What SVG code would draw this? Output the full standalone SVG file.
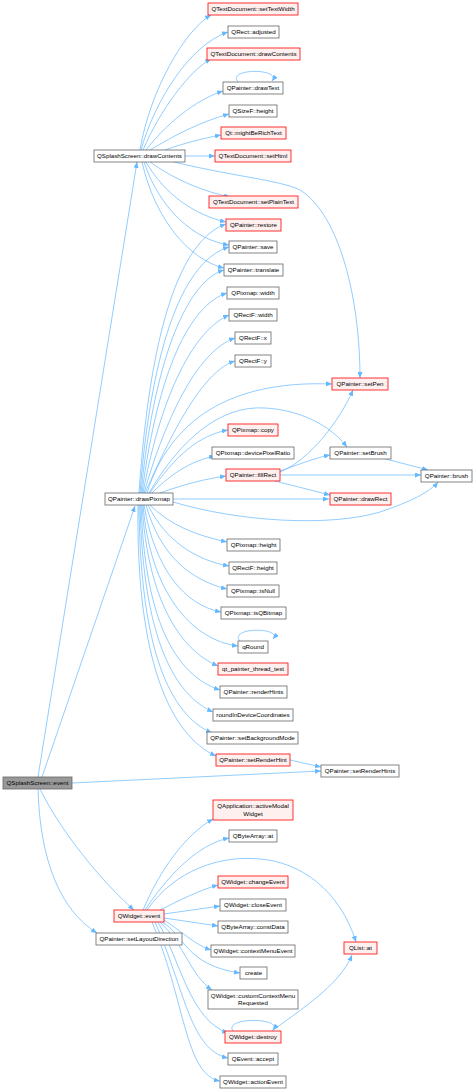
<svg xmlns="http://www.w3.org/2000/svg" width="474" height="1090" viewBox="0 0 474 1090">
<style>
.n rect{fill:#fff;stroke:#666;stroke-width:0.8}
.r rect{fill:#fff0f0;stroke:#ff0000;stroke-width:0.8}
.root rect{fill:#999;stroke:#666;stroke-width:0.8}
text{font-family:"Liberation Sans",Arial,sans-serif;font-size:6.2px;fill:#000;text-anchor:middle}
#edges path{fill:none;stroke:#63b8ff;stroke-width:0.7;marker-end:url(#a)}
</style>
<defs>
<marker id="a" viewBox="0 0 10 10" refX="10" refY="5" markerWidth="6" markerHeight="5" markerUnits="userSpaceOnUse" orient="auto" preserveAspectRatio="none"><path d="M0,0 L10,5 L0,10z" fill="#63b8ff"/></marker>
</defs>
<rect width="474" height="1090" fill="#fff"/>
<g id="edges">
<path d="M140,150 C150,90 185,30 211,15"/>
<path d="M141,150 C155,100 190,45 228,32"/>
<path d="M143,150 C160,110 190,70 211,59"/>
<path d="M146,150 C165,125 195,100 223,91"/>
<path d="M150,150 C175,135 200,122 229,114"/>
<path d="M165,150 C185,143 200,139 221,135"/>
<path d="M185,156 L215,156"/>
<path d="M150,162 C175,180 205,192 230,197"/>
<path d="M146,162 C165,195 195,215 226,222"/>
<path d="M144,162 C160,210 195,240 229,245"/>
<path d="M142,162 C155,220 190,260 224,268"/>
<path d="M170,161 C230,176 280,180 300,190 C340,215 360,300 360,378"/>
<path d="M238,82 C226,68 282,68 272,81"/>
<path d="M38,777 L137,162"/>
<path d="M42,777 L135,506"/>
<path d="M72,783 L321,771"/>
<path d="M40,789 C60,830 100,880 134,910"/>
<path d="M38,789 C40,860 60,910 97,933"/>
<path d="M139,493 C150,330 180,240 226,224"/>
<path d="M140,493 C152,340 185,260 229,247"/>
<path d="M141,493 C155,350 190,280 224,270"/>
<path d="M142,493 C158,370 190,305 227,293"/>
<path d="M143,493 C162,390 195,330 229,315"/>
<path d="M144,493 C168,410 200,350 235,338"/>
<path d="M145,493 C175,425 205,370 235,361"/>
<path d="M147,493 C170,420 230,380 332,384"/>
<path d="M149,493 C180,440 220,405 265,408 C300,410 330,425 347,447"/>
<path d="M150,493 C175,455 200,435 228,430"/>
<path d="M152,493 C175,470 195,460 215,456"/>
<path d="M160,493 C185,484 205,479 226,476"/>
<path d="M173,499 L329,499"/>
<path d="M173,502 C240,522 330,527 380,512 C410,502 430,492 438,482"/>
<path d="M150,505 C170,525 195,535 227,542"/>
<path d="M148,505 C165,540 195,560 229,566"/>
<path d="M146,505 C160,555 190,580 227,589"/>
<path d="M144,505 C155,570 185,605 221,612"/>
<path d="M143,505 C150,590 190,640 238,646"/>
<path d="M142,505 C148,600 180,650 218,666"/>
<path d="M141,505 C145,620 175,675 220,690"/>
<path d="M140,505 C143,640 175,695 213,712"/>
<path d="M139,505 C140,650 170,715 212,733"/>
<path d="M138,505 C136,660 170,735 216,756"/>
<path d="M240,641 C228,627 283,627 273,639"/>
<path d="M280,472 C310,460 340,420 353,390"/>
<path d="M280,471 C300,464 315,458 330,455"/>
<path d="M280,475 L421,475"/>
<path d="M275,481 L330,495"/>
<path d="M382,458 L428,470"/>
<path d="M290,760 L321,767"/>
<path d="M143,910 C160,870 185,835 213,819"/>
<path d="M145,910 C165,880 195,845 229,838"/>
<path d="M147,910 C175,870 220,855 260,859 C300,862 340,890 356,942"/>
<path d="M160,910 C180,900 200,890 218,885"/>
<path d="M164,914 L220,906"/>
<path d="M164,918 L218,926"/>
<path d="M164,920 C180,930 195,945 211,950"/>
<path d="M162,922 C185,935 185,965 240,973"/>
<path d="M160,922 C185,945 190,975 212,990"/>
<path d="M158,922 C180,960 190,1020 228,1033"/>
<path d="M155,922 C185,990 190,1050 228,1058"/>
<path d="M152,922 C185,1000 185,1075 220,1081"/>
<path d="M233,1031 C223,1017 283,1017 273,1030"/>
<path d="M272,1031 C300,1010 340,985 352,955"/>
</g>
<g id="n1" class="r"><rect x="208" y="3" width="90" height="12"/><text x="253" y="11.2">QTextDocument::setTextWidth</text></g>
<g id="n2" class="n"><rect x="228" y="26" width="51" height="12"/><text x="253.5" y="34.2">QRect::adjusted</text></g>
<g id="n3" class="r"><rect x="207" y="48" width="93" height="12"/><text x="253.5" y="56.2">QTextDocument::drawContents</text></g>
<g id="n4" class="n"><rect x="223" y="82" width="60" height="12"/><text x="253" y="90.2">QPainter::drawText</text></g>
<g id="n5" class="n"><rect x="229" y="105" width="48" height="12"/><text x="253" y="113.2">QSizeF::height</text></g>
<g id="n6" class="r"><rect x="221" y="127" width="65" height="12"/><text x="253.5" y="135.2">Qt::mightBeRichText</text></g>
<g id="n7" class="r"><rect x="215" y="150" width="76" height="12"/><text x="253" y="158.2">QTextDocument::setHtml</text></g>
<g id="n8" class="n"><rect x="94" y="150" width="91" height="12"/><text x="139.5" y="158.2">QSplashScreen::drawContents</text></g>
<g id="n9" class="r"><rect x="209" y="196" width="89" height="12"/><text x="253.5" y="204.2">QTextDocument::setPlainText</text></g>
<g id="n10" class="r"><rect x="226" y="219" width="55" height="12"/><text x="253.5" y="227.2">QPainter::restore</text></g>
<g id="n11" class="n"><rect x="229" y="241" width="48" height="12"/><text x="253" y="249.2">QPainter::save</text></g>
<g id="n12" class="n"><rect x="224" y="264" width="59" height="12"/><text x="253.5" y="272.2">QPainter::translate</text></g>
<g id="n13" class="n"><rect x="227" y="287" width="52" height="12"/><text x="253" y="295.2">QPixmap::width</text></g>
<g id="n14" class="n"><rect x="229" y="309" width="48" height="12"/><text x="253" y="317.2">QRectF::width</text></g>
<g id="n15" class="n"><rect x="235" y="332" width="36" height="12"/><text x="253" y="340.2">QRectF::x</text></g>
<g id="n16" class="n"><rect x="235" y="355" width="36" height="12"/><text x="253" y="363.2">QRectF::y</text></g>
<g id="n17" class="r"><rect x="332" y="378" width="56" height="12"/><text x="360" y="386.2">QPainter::setPen</text></g>
<g id="n18" class="r"><rect x="228" y="424" width="50" height="12"/><text x="253" y="432.2">QPixmap::copy</text></g>
<g id="n19" class="n"><rect x="212" y="447" width="82" height="12"/><text x="253" y="455.2">QPixmap::devicePixelRatio</text></g>
<g id="n20" class="n"><rect x="330" y="447" width="61" height="12"/><text x="360.5" y="455.2">QPainter::setBrush</text></g>
<g id="n21" class="r"><rect x="226" y="469" width="54" height="12"/><text x="253" y="477.2">QPainter::fillRect</text></g>
<g id="n22" class="n"><rect x="421" y="470" width="51" height="12"/><text x="446.5" y="478.2">QPainter::brush</text></g>
<g id="n23" class="n"><rect x="105" y="493" width="68" height="12"/><text x="139" y="501.2">QPainter::drawPixmap</text></g>
<g id="n24" class="r"><rect x="330" y="493" width="61" height="12"/><text x="360.5" y="501.2">QPainter::drawRect</text></g>
<g id="n25" class="n"><rect x="227" y="539" width="53" height="12"/><text x="253.5" y="547.2">QPixmap::height</text></g>
<g id="n26" class="n"><rect x="229" y="562" width="48" height="12"/><text x="253" y="570.2">QRectF::height</text></g>
<g id="n27" class="n"><rect x="227" y="585" width="52" height="12"/><text x="253" y="593.2">QPixmap::isNull</text></g>
<g id="n28" class="n"><rect x="221" y="607" width="65" height="12"/><text x="253.5" y="615.2">QPixmap::isQBitmap</text></g>
<g id="n29" class="n"><rect x="238" y="641" width="30" height="12"/><text x="253" y="649.2">qRound</text></g>
<g id="n30" class="r"><rect x="218" y="663" width="70" height="12"/><text x="253" y="671.2">qt_painter_thread_test</text></g>
<g id="n31" class="n"><rect x="220" y="686" width="67" height="12"/><text x="253.5" y="694.2">QPainter::renderHints</text></g>
<g id="n32" class="n"><rect x="213" y="709" width="80" height="12"/><text x="253" y="717.2">roundInDeviceCoordinates</text></g>
<g id="n33" class="n"><rect x="207" y="732" width="91" height="12"/><text x="252.5" y="740.2">QPainter::setBackgroundMode</text></g>
<g id="n34" class="r"><rect x="216" y="754" width="74" height="12"/><text x="253" y="762.2">QPainter::setRenderHint</text></g>
<g id="n35" class="n"><rect x="321" y="765" width="78" height="12"/><text x="360" y="773.2">QPainter::setRenderHints</text></g>
<g id="n36" class="root"><rect x="3" y="777" width="69" height="12"/><text x="37.5" y="785.2">QSplashScreen::event</text></g>
<g id="n37" class="r"><rect x="213" y="800" width="80" height="20"/><text x="253" y="808">QApplication::activeModal</text><text x="253" y="815.5">Widget</text></g>
<g id="n38" class="n"><rect x="229" y="830" width="48" height="12"/><text x="253" y="838.2">QByteArray::at</text></g>
<g id="n39" class="r"><rect x="218" y="876" width="70" height="12"/><text x="253" y="884.2">QWidget::changeEvent</text></g>
<g id="n40" class="n"><rect x="220" y="899" width="66" height="12"/><text x="253" y="907.2">QWidget::closeEvent</text></g>
<g id="n41" class="r"><rect x="114" y="910" width="50" height="12"/><text x="139" y="918.2">QWidget::event</text></g>
<g id="n42" class="n"><rect x="218" y="921" width="70" height="12"/><text x="253" y="929.2">QByteArray::constData</text></g>
<g id="n43" class="n"><rect x="96" y="933" width="86" height="12"/><text x="139" y="941.2">QPainter::setLayoutDirection</text></g>
<g id="n44" class="r"><rect x="344" y="942" width="33" height="12"/><text x="360.5" y="950.2">QList::at</text></g>
<g id="n45" class="n"><rect x="211" y="945" width="84" height="12"/><text x="253" y="953.2">QWidget::contextMenuEvent</text></g>
<g id="n46" class="n"><rect x="240" y="967" width="27" height="12"/><text x="253.5" y="975.2">create</text></g>
<g id="n47" class="n"><rect x="208" y="990" width="90" height="19"/><text x="253" y="997.6">QWidget::customContextMenu</text><text x="253" y="1005">Requested</text></g>
<g id="n48" class="r"><rect x="225" y="1031" width="56" height="12"/><text x="253" y="1039.2">QWidget::destroy</text></g>
<g id="n49" class="n"><rect x="228" y="1053" width="50" height="12"/><text x="253" y="1061.2">QEvent::accept</text></g>
<g id="n50" class="n"><rect x="220" y="1076" width="66" height="12"/><text x="253" y="1084.2">QWidget::actionEvent</text></g>
</svg>
